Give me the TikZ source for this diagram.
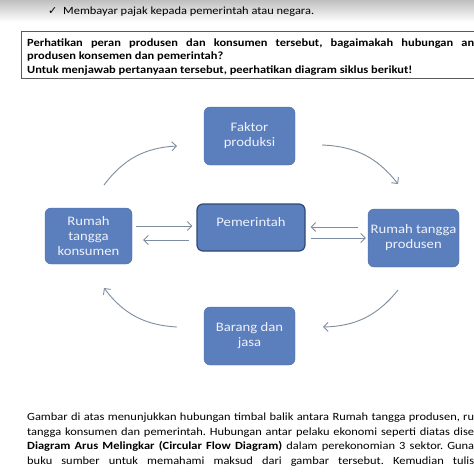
\documentclass[tikz,border=0pt]{standalone}
\usepackage{fontspec}
\setmainfont{Carlito}[FakeStretch=1.13]
\newfontfamily\symfont{DejaVu Sans}
\usetikzlibrary{arrows.meta}
\usetikzlibrary{calc}
\definecolor{boxblue}{HTML}{5B7EBD}
\definecolor{boxline}{HTML}{4C6DA8}
\definecolor{govline}{HTML}{2E4A73}
\definecolor{arrowgray}{HTML}{7D8C9E}
\definecolor{framegray}{HTML}{5A5A5A}
\definecolor{boxtext}{HTML}{EEF2FA}
\tikzset{
	sector/.style={draw=boxline, fill=boxblue, rounded corners=6pt, text=boxtext, align=center, font=\fontsize{13}{15}\selectfont, inner sep=0pt},
	flow/.style={draw=arrowgray, line width=0.9pt, -{Straight Barb[length=4.5pt,width=9pt]}},
	textline/.style={anchor=base west, inner sep=0pt, font=\fontsize{11}{13}\selectfont},
}
\frenchspacing

\begin{document}
\begin{tikzpicture}[x=1pt,y=-1pt]
\useasboundingbox (0,0) rectangle (474,472);
\shade[top color=black!25, bottom color=white] (0,0) rectangle (474,22);
\node[textline] (check) at (48,14) {\symfont ✓};
\node[textline] (pajak) at (63,14) {Membayar pajak kepada pemerintah atau negara.};
% question box
\draw[framegray, line width=1pt] (480,31) -- (21,31) -- (21,78) -- (480,78);
\node[textline] (q1) at (27,46) {\makebox[447pt][s]{\bfseries Perhatikan peran produsen dan konsumen tersebut, bagaimakah hubungan an}};
\node[textline] (q2) at (27,59.5) {\bfseries produsen konsemen dan pemerintah?};
\node[textline] (q3) at (27,73) {\bfseries Untuk menjawab pertanyaan tersebut, peerhatikan diagram siklus berikut!};
% diagram
\node[sector, minimum width=91pt, minimum height=58pt] (faktor) at (249.5,136) {Faktor\\produksi};
\node[sector, draw=govline, line width=1.2pt, minimum width=108pt, minimum height=47pt, text depth=12pt] (pemerintah) at (251,227.5) {Pemerintah};
\node[sector, minimum width=87pt, minimum height=56pt] (konsumen) at (88.5,236) {Rumah\\tangga\\konsumen};
\node[sector, minimum width=91pt, minimum height=58pt] (produsen) at (413.5,238) {Rumah tangga\\produsen};
\node[sector, minimum width=91pt, minimum height=58pt] (barang) at (249.5,336) {Barang dan\\jasa};
\coordinate (k1) at (104,185);
\coordinate (f1) at (177,146);
\coordinate (f2) at (322,145);
\coordinate (p1) at (398,184);
\coordinate (p2) at (398,290);
\coordinate (b1) at (323,327);
\coordinate (b2) at (177,327);
\coordinate (k2) at (104,288);
\foreach \a/\b in {k1/f1, f2/p1, p2/b1, b2/k2} {
	\draw[flow] (\a) to[bend left=25] (\b);
	};
\draw[flow] ($(konsumen.east)+(4,-10)$) -- ($(pemerintah.west)+(-4,-1.5)$);
\draw[flow] ($(pemerintah.west)+(-7,12.5)$) -- ($(konsumen.east)+(11,4)$);
\draw[flow] ($(produsen.west)+(-10,-11)$) -- ($(pemerintah.east)+(5,-0.5)$);
\draw[flow] ($(pemerintah.east)+(5,10.5)$) -- ($(produsen.west)+(-2,0)$);
% paragraph
\node[textline] (p1l) at (27,420) {\makebox[447pt][s]{Gambar di atas menunjukkan hubungan timbal balik antara Rumah tangga produsen, ru}};
\node[textline] (p2l) at (27,435) {\makebox[447pt][s]{tangga konsumen dan pemerintah. Hubungan antar pelaku ekonomi seperti diatas dise}};
\node[textline] (p3l) at (27,449.5) {\makebox[447pt][s]{\textbf{Diagram Arus Melingkar (Circular Flow Diagram)} dalam perekonomian 3 sektor. Guna}};
\node[textline] (p4l) at (27,464.5) {\makebox[447pt][s]{buku sumber untuk memahami maksud dari gambar tersebut. Kemudian tulis}};
\end{tikzpicture}
\end{document}
